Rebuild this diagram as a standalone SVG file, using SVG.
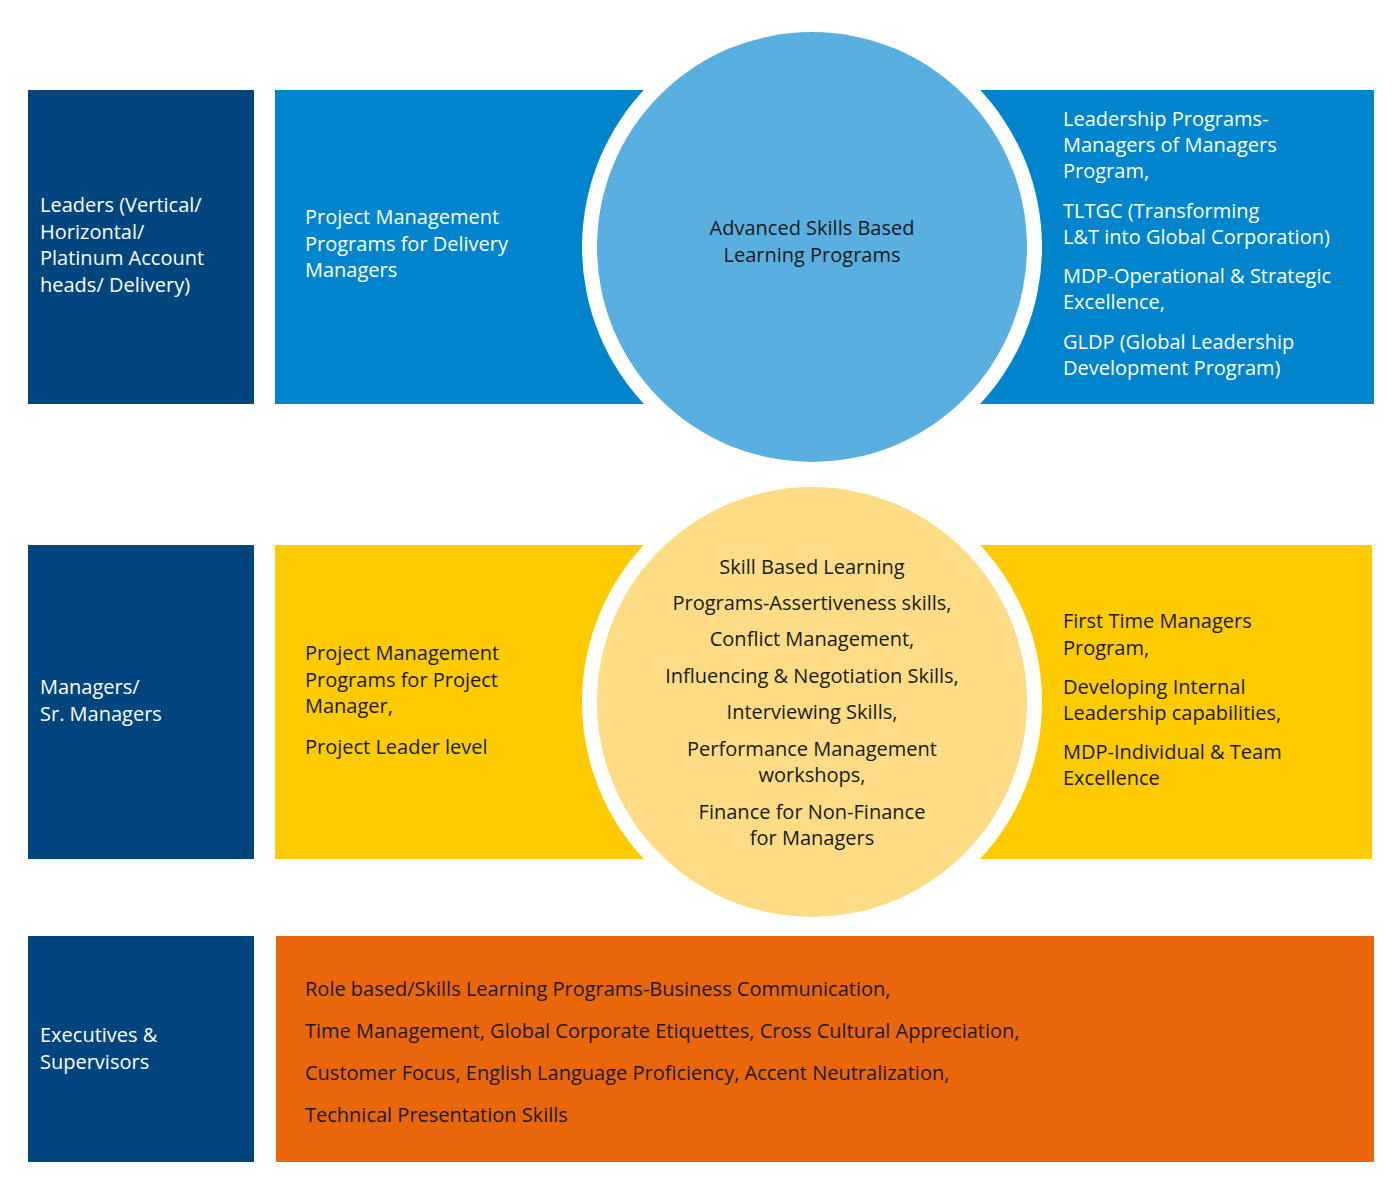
<svg xmlns="http://www.w3.org/2000/svg" width="1400" height="1193" viewBox="0 0 1400 1193">
<style>
text{font-family:"Open Sans","Liberation Sans",sans-serif;font-size:20px}
.w{fill:#ffffff}.d{fill:#1a1a1a}
.c{text-anchor:middle}
</style>
<rect width="1400" height="1193" fill="#ffffff"/>
<g id="leaders"><rect x="28" y="90" width="226" height="314" fill="#01457F"/>
<text class="w" x="40" y="212">Leaders (Vertical/</text><text class="w" x="40" y="239">Horizontal/</text><text class="w" x="40" y="265">Platinum Account</text><text class="w" x="40" y="292">heads/ Delivery)</text></g>
<g id="managers"><rect x="28" y="545" width="226" height="314" fill="#01457F"/>
<text class="w" x="40" y="694">Managers/</text><text class="w" x="40" y="721">Sr. Managers</text></g>
<g id="executives"><rect x="28" y="936" width="226" height="226" fill="#01457F"/>
<text class="w" x="40" y="1042">Executives &amp;</text><text class="w" x="40" y="1069">Supervisors</text></g>
<g id="top-left"><rect x="275" y="90" width="400" height="314" fill="#0085CC"/>
<text class="w" x="305" y="224">Project Management</text><text class="w" x="305" y="251">Programs for Delivery</text><text class="w" x="305" y="277">Managers</text></g>
<g id="top-right"><rect x="950" y="90" width="424" height="314" fill="#0085CC"/>
<text class="w" x="1063" y="126">Leadership Programs-</text><text class="w" x="1063" y="152">Managers of Managers</text><text class="w" x="1063" y="178">Program,</text>
<text class="w" x="1063" y="218">TLTGC (Transforming</text><text class="w" x="1063" y="244">L&amp;T into Global Corporation)</text>
<text class="w" x="1063" y="283">MDP-Operational &amp; Strategic</text><text class="w" x="1063" y="309">Excellence,</text>
<text class="w" x="1063" y="349">GLDP (Global Leadership</text><text class="w" x="1063" y="375">Development Program)</text></g>
<g id="top-circle"><circle cx="812" cy="247" r="230" fill="#ffffff"/><circle cx="812" cy="247" r="215" fill="#5AAFE1"/>
<text class="d c" x="812" y="235">Advanced Skills Based</text><text class="d c" x="812" y="262">Learning Programs</text></g>
<g id="mid-left"><rect x="275" y="545" width="400" height="314" fill="#FDCB00"/>
<text class="d" x="305" y="660">Project Management</text><text class="d" x="305" y="687">Programs for Project</text><text class="d" x="305" y="713">Manager,</text><text class="d" x="305" y="754">Project Leader level</text></g>
<g id="mid-right"><rect x="950" y="545" width="422" height="314" fill="#FDCB00"/>
<text class="d" x="1063" y="628">First Time Managers</text><text class="d" x="1063" y="655">Program,</text>
<text class="d" x="1063" y="694">Developing Internal</text><text class="d" x="1063" y="720">Leadership capabilities,</text>
<text class="d" x="1063" y="759">MDP-Individual &amp; Team</text><text class="d" x="1063" y="785">Excellence</text></g>
<g id="mid-circle"><circle cx="812" cy="702" r="230" fill="#ffffff"/><circle cx="812" cy="702" r="215" fill="#FDDC85"/>
<text class="d c" x="812" y="574">Skill Based Learning</text><text class="d c" x="812" y="610">Programs-Assertiveness skills,</text>
<text class="d c" x="812" y="646">Conflict Management,</text><text class="d c" x="812" y="683">Influencing &amp; Negotiation Skills,</text>
<text class="d c" x="812" y="719">Interviewing Skills,</text><text class="d c" x="812" y="756">Performance Management</text>
<text class="d c" x="812" y="782">workshops,</text><text class="d c" x="812" y="819">Finance for Non-Finance</text><text class="d c" x="812" y="845">for Managers</text></g>
<g id="bottom"><rect x="276" y="936" width="1098" height="226" fill="#EA660A"/>
<text class="d" x="305" y="996">Role based/Skills Learning Programs-Business Communication,</text>
<text class="d" x="305" y="1038">Time Management, Global Corporate Etiquettes, Cross Cultural Appreciation,</text>
<text class="d" x="305" y="1080">Customer Focus, English Language Proficiency, Accent Neutralization,</text>
<text class="d" x="305" y="1122">Technical Presentation Skills</text></g>
<g id="connectors"/>
</svg>
